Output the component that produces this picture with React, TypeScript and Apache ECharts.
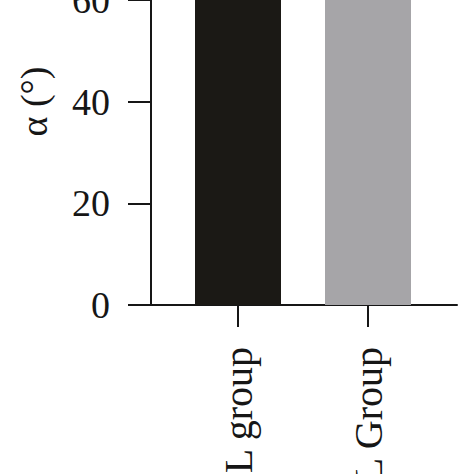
import React, { useEffect, useRef } from "react";
import * as echarts from "echarts";

const categories = ["L group", "L Group"];
const alphaValues = [68, 67];
const barColors = ["#1b1915", "#a6a5a8"];
const yTicks = { min: 0, max: 80, interval: 20 };

const FONT = "Liberation Serif";
const INK = "#161616";

const App = () => {
  const chartRef = useRef<HTMLDivElement>(null);

  useEffect(() => {
    const chart = echarts.init(chartRef.current, null, { renderer: "svg" });

    const option = {
      animation: false,
      backgroundColor: "#ffffff",
      grid: [
        // outer frame: the L-shaped axes
        { left: 151, right: 17, top: -102, bottom: 169, containLabel: false, outerBoundsMode: "none" },
        // inner band where the bars sit
        { left: 173, right: 41, top: -102, bottom: 169, containLabel: false, outerBoundsMode: "none" },
      ],
      xAxis: [
        {
          type: "value",
          gridIndex: 0,
          min: 0,
          max: 1,
          axisLine: { show: true, lineStyle: { color: INK, width: 2 } },
          axisTick: { show: false },
          axisLabel: { show: false },
          splitLine: { show: false },
        },
        {
          type: "category",
          gridIndex: 1,
          data: categories,
          axisLine: { show: false },
          axisTick: {
            show: true,
            alignWithLabel: true,
            length: 22,
            lineStyle: { color: INK, width: 2 },
          },
          axisLabel: {
            rotate: 90,
            margin: 42,
            fontSize: 40,
            fontFamily: FONT,
            color: INK,
          },
        },
      ],
      yAxis: [
        {
          type: "value",
          gridIndex: 0,
          ...yTicks,
          name: "α (°)",
          nameLocation: "middle",
          nameGap: 98,
          nameTextStyle: { fontSize: 38, fontFamily: FONT, color: INK },
          axisLine: { show: true, lineStyle: { color: INK, width: 2 } },
          axisTick: { show: true, length: 23, lineStyle: { color: INK, width: 2 } },
          axisLabel: { margin: 41, fontSize: 38, fontFamily: FONT, color: INK },
          splitLine: { show: false },
        },
        {
          type: "value",
          gridIndex: 1,
          ...yTicks,
          show: false,
        },
      ],
      series: [
        {
          type: "bar",
          xAxisIndex: 1,
          yAxisIndex: 1,
          barWidth: 86,
          data: alphaValues.map((v, i) => ({
            value: v,
            itemStyle: { color: barColors[i] },
          })),
        },
      ],
    };

    chart.setOption(option);
    return () => chart.dispose();
  }, []);

  return (
    <div
      ref={chartRef}
      style={{ position: "absolute", left: 0, top: 0, width: 474, height: 474 }}
    />
  );
};

export default App;
